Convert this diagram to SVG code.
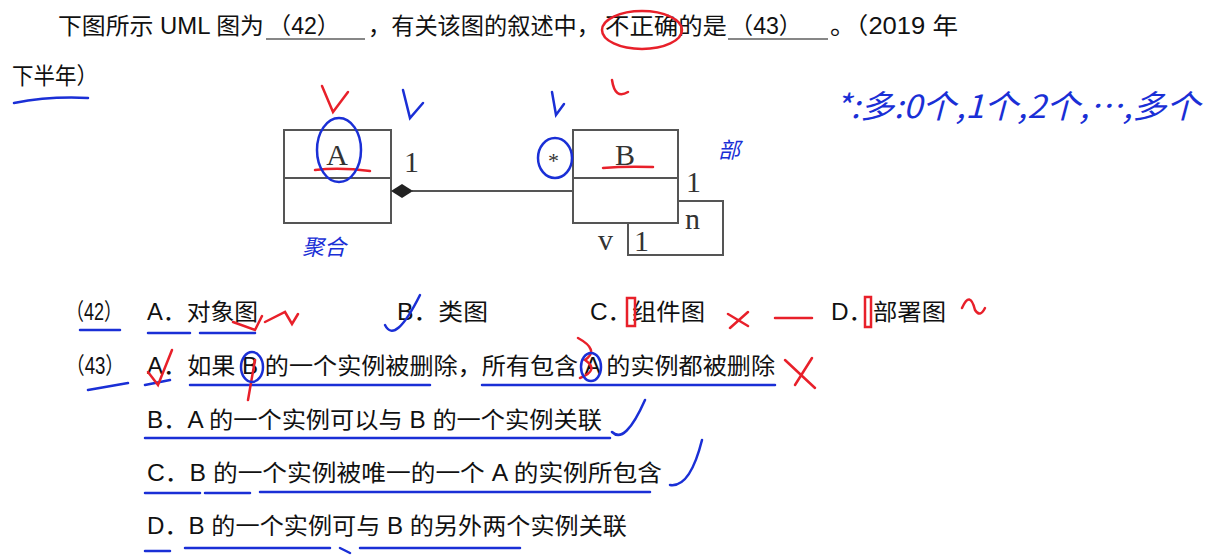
<svg xmlns="http://www.w3.org/2000/svg" width="1214" height="559" viewBox="0 0 1214 559">
<style>
.t{font-family:"Liberation Sans","Noto Sans CJK SC",sans-serif;font-size:23px;fill:#111}
.u{font-family:"Liberation Serif",serif;font-size:30px;fill:#333}
.box{fill:#fff;stroke:#555;stroke-width:2}
.ln{stroke:#555;stroke-width:2;fill:none}
.bl{stroke:#1a2fd6;stroke-width:2.5;fill:none;stroke-linecap:round}
.rd{stroke:#e8202a;stroke-width:2.5;fill:none;stroke-linecap:round}
.hw{font-family:"Noto Sans CJK SC",sans-serif;font-style:italic;fill:#1a2fd6}
</style>
<rect width="1214" height="559" fill="#fff"/>
<text class="t" x="58" y="34" textLength="206" lengthAdjust="spacingAndGlyphs">下图所示 UML 图为</text>
<text class="t" x="268" y="34" textLength="72" lengthAdjust="spacingAndGlyphs">（42）</text>
<text class="t" x="368" y="34" textLength="232" lengthAdjust="spacingAndGlyphs">，有关该图的叙述中，</text>
<text class="t" x="605" y="34" textLength="122" lengthAdjust="spacingAndGlyphs">不正确的是</text>
<text class="t" x="730" y="34" textLength="72" lengthAdjust="spacingAndGlyphs">（43）</text>
<text class="t" x="830" y="34" textLength="128" lengthAdjust="spacingAndGlyphs">。（2019 年</text>
<line x1="266" y1="39" x2="365" y2="39" stroke="#111" stroke-width="1.2"/>
<line x1="728" y1="39" x2="828" y2="39" stroke="#111" stroke-width="1.2"/>
<text class="t" x="12" y="84" textLength="86" lengthAdjust="spacingAndGlyphs">下半年）</text>
<g id="nodeA"><rect class="box" x="284" y="130" width="107" height="93"/><line class="ln" x1="284" y1="178" x2="391" y2="178"/><text class="u" x="337" y="165" text-anchor="middle">A</text></g>
<g id="nodeB"><rect class="box" x="573" y="130" width="105" height="93"/><line class="ln" x1="573" y1="178" x2="678" y2="178"/><text class="u" x="625" y="165" text-anchor="middle">B</text></g>
<g id="connectors">
<line class="ln" x1="412" y1="191" x2="573" y2="191"/>
<polygon points="391,191 402,184 413,191 402,198" fill="#222"/>
<polyline class="ln" points="678,201 723,201 723,255 628,255 628,223"/>
</g>
<g class="u" font-size="28">
<text x="404" y="172">1</text><text x="548" y="168" font-size="22">*</text>
<text x="686" y="192">1</text><text x="685" y="229">n</text>
<text x="598" y="250">v</text><text x="634" y="251">1</text>
</g>
<text class="t" x="66" y="320" textLength="56" lengthAdjust="spacingAndGlyphs">（42）</text>
<text class="t" x="147" y="320" textLength="111" lengthAdjust="spacingAndGlyphs">A．对象图</text>
<text class="t" x="397" y="320" textLength="91" lengthAdjust="spacingAndGlyphs">B．类图</text>
<text class="t" x="590" y="320" textLength="115" lengthAdjust="spacingAndGlyphs">C．组件图</text>
<text class="t" x="831" y="320" textLength="115" lengthAdjust="spacingAndGlyphs">D．部署图</text>
<text class="t" x="66" y="374" textLength="58" lengthAdjust="spacingAndGlyphs">（43）</text>
<text class="t" x="147" y="374" textLength="628" lengthAdjust="spacingAndGlyphs">A．如果 B 的一个实例被删除，所有包含 A 的实例都被删除</text>
<text class="t" x="147" y="428" textLength="455" lengthAdjust="spacingAndGlyphs">B．A 的一个实例可以与 B 的一个实例关联</text>
<text class="t" x="147" y="481" textLength="515" lengthAdjust="spacingAndGlyphs">C．B 的一个实例被唯一的一个 A 的实例所包含</text>
<text class="t" x="147" y="534" textLength="480" lengthAdjust="spacingAndGlyphs">D．B 的一个实例可与 B 的另外两个实例关联</text>
<!-- annotations -->
<g>
<path class="bl" d="M14,103 Q50,96 88,98"/>
<ellipse class="rd" cx="642" cy="30" rx="40" ry="19"/>
<path class="rd" d="M322,86 L333,112 L348,92"/>
<path class="rd" d="M612,80 Q615,100 628,92"/>
<path class="rd" d="M315,170 Q340,167 370,171"/>
<path class="rd" d="M603,168 Q625,166 653,167"/>
<ellipse class="bl" cx="339" cy="150" rx="22" ry="32"/>
<ellipse class="bl" cx="555" cy="158" rx="17" ry="20"/>
<path class="bl" d="M403,90 L410,118 L423,103"/>
<path class="bl" d="M552,92 L556,115 L564,104"/>
<text class="hw" x="718" y="158" font-size="22">部</text>
<text class="hw" x="302" y="255" font-size="22">聚合</text>
<text class="hw" x="835" y="118" font-size="32" textLength="365" lengthAdjust="spacingAndGlyphs">*:多:0个,1个,2个,…,多个</text>
<path class="bl" d="M80,330 L120,330 M148,333 L190,333 M200,333 L255,333"/>
<path class="bl" d="M385,325 Q395,345 420,295"/>
<path class="rd" d="M233,322 L255,330 L262,316 M265,322 L285,312 L292,324 L298,314"/>
<rect class="rd" x="627" y="298" width="8" height="28"/>
<path class="rd" d="M728,314 L748,326 M748,312 L730,328 M775,318 L812,318"/>
<rect class="rd" x="865" y="297" width="6" height="30"/>
<path class="rd" d="M962,308 Q970,290 975,310 Q980,318 985,308"/>
<path class="bl" d="M88,390 L128,383 M145,385 L170,380 M190,385 L430,385 M482,385 L775,385"/>
<path class="rd" d="M148,372 L158,385 L172,350"/>
<path class="rd" d="M248,400 L255,360 M578,338 Q600,350 585,360 Q600,370 580,378"/>
<ellipse class="bl" cx="252" cy="367" rx="11" ry="15"/>
<ellipse class="bl" cx="591" cy="367" rx="10" ry="14"/>
<path class="rd" d="M785,360 L815,388 M812,358 L795,385"/>
<path class="bl" d="M145,438 L610,438 M612,432 Q625,445 645,400"/>
<path class="bl" d="M145,493 L200,493 M205,493 L250,493 M260,492 L650,492 M670,485 Q690,488 702,440"/>
<path class="bl" d="M145,551 L170,551 M185,548 L330,548 M340,548 L350,553 M360,548 L520,548"/>
</g>
</svg>
